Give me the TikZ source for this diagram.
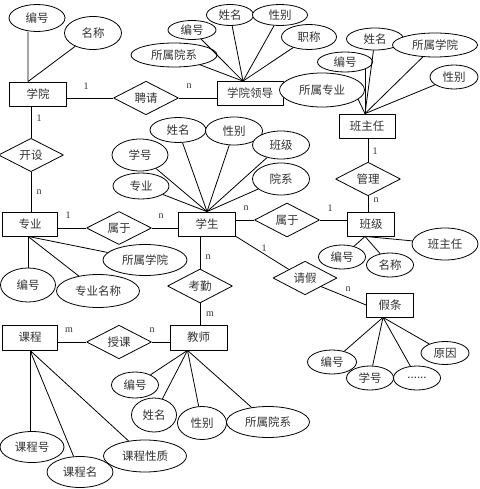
\documentclass[tikz,border=0pt]{standalone}
\usepackage{fontspec}
\setmainfont{Liberation Serif}
\newfontfamily\cjk{Noto Sans CJK SC}
\usetikzlibrary{shapes.geometric}

\begin{document}
\begin{tikzpicture}[x=1pt, y=-1pt, line width=0.8pt, line join=round,
  every node/.style={font=\cjk\fontsize{11.5}{13}\selectfont, text=black!80, inner sep=0pt},
  ent/.style={draw, rectangle, fill=white, minimum width=56pt, minimum height=24pt},
  rel/.style={draw, diamond, fill=white, minimum width=65pt, minimum height=32pt},
  attr/.style 2 args={draw, ellipse, fill=white, minimum width=#1, minimum height=#2},
  card/.style={font=\rmfamily\fontsize{10}{12}\selectfont}]

  % ── 实体 ──
  \node[ent, minimum width=57pt] (xy)   at (38,94)    {学院};
  \node[ent, minimum width=66pt] (xyld) at (250,93.5) {学院领导};
  \node[ent] (bzr) at (367,126) {班主任};
  \node[ent, minimum width=55pt] (zy)   at (30,224)   {专业};
  \node[ent, minimum width=57pt] (xs)   at (207,224)  {学生};
  \node[ent, minimum width=47pt] (bj)   at (371,224)  {班级};
  \node[ent, minimum width=47pt] (jt)   at (390,305)  {假条};
  \node[ent, minimum width=55pt, minimum height=25pt] (kc) at (30,337.5)  {课程};
  \node[ent, minimum width=57pt, minimum height=25pt] (js) at (198.5,337.5) {教师};

  % ── 联系 ──
  \node[rel] (pq)  at (146,98)  {聘请};
  \node[rel] (ks)  at (31,155)  {开设};
  \node[rel] (sy1) at (119,228) {属于};
  \node[rel, minimum height=34pt] (sy2) at (287,220) {属于};
  \node[rel] (gl)  at (368,179) {管理};
  \node[rel, minimum width=64pt] (qj) at (305,278) {请假};
  \node[rel, minimum height=34pt] (kq) at (200,286) {考勤};
  \node[rel] (sk)  at (119,342) {授课};

  \draw (xy.east |- pq) -- (pq.west) (pq.east) -- (xyld.west |- pq);
  \draw (xy.south -| ks) -- (ks.north) (ks.south) -- (zy.north -| ks);
  \draw (zy.east |- sy1) -- (sy1.west) (sy1.east) -- (xs.west |- sy1);
  \draw (xs.east |- sy2) -- (sy2.west) (sy2.east) -- (bj.west |- sy2);
  \draw (bzr.south -| gl) -- (gl.north) (gl.south) -- (bj.north -| gl);
  \draw (xs.south -| kq) -- (kq.north) (kq.south) -- (js.north -| kq);
  \draw (kc.east |- sk) -- (sk.west) (sk.east) -- (js.west |- sk);
  \draw (xs.south east) -- (qj.north west) (qj.south east) -- (jt.west);

  % ── 对应关系 ──
  \node[card] (c1)  at (86,86)   {1};
  \node[card] (c2)  at (189,86)  {n};
  \node[card] (c3)  at (39,118)  {1};
  \node[card] (c4)  at (39,192)  {n};
  \node[card] (c5)  at (68,215)  {1};
  \node[card] (c6)  at (161,216) {n};
  \node[card] (c7)  at (246,208) {n};
  \node[card] (c8)  at (330,208) {1};
  \node[card] (c9)  at (375,151) {1};
  \node[card] (c10) at (376,200) {n};
  \node[card] (c11) at (264,248) {1};
  \node[card] (c12) at (348,289) {n};
  \node[card] (c13) at (208,257) {n};
  \node[card] (c14) at (210,314) {m};
  \node[card] (c15) at (69,330)  {m};
  \node[card] (c16) at (152,330) {n};

  % ── 学院的属性 ──
  \node[attr={56pt}{27pt}] (xy_bh) at (37,18) {编号};
  \node[attr={57pt}{33pt}] (xy_mc) at (93,33) {名称};
  \coordinate (xy_c) at ([xshift=-10pt]xy.north);
  \draw (xy_c) -- (xy_c |- xy_bh.south) (xy_c) -- (xy_mc);

  % ── 学院领导的属性 ──
  \node[attr={47pt}{21pt}] (ld_xm) at (230,15) {姓名};
  \node[attr={55pt}{21pt}] (ld_xb) at (280,15) {性别};
  \node[attr={48pt}{19pt}] (ld_bh) at (192,30) {编号};
  \node[attr={86pt}{24pt}] (ld_yx) at (174,55) {所属院系};
  \node[attr={55pt}{25pt}] (ld_zc) at (309,37) {职称};
  \coordinate (ld_c) at ([xshift=-7pt]xyld.north);
  \foreach \a in {ld_xm,ld_xb,ld_bh,ld_yx,ld_zc}
    \draw (ld_c) -- (\a);

  % ── 班主任的属性 ──
  \node[attr={57pt}{22pt}] (bz_xm) at (375,39) {姓名};
  \node[attr={85pt}{24pt}] (bz_xy) at (435,45) {所属学院};
  \node[attr={55pt}{20pt}] (bz_bh) at (345,62) {编号};
  \node[attr={48pt}{24pt}] (bz_xb) at (454,77) {性别};
  \node[attr={85pt}{34pt}] (bz_zy) at (322,90) {所属专业};
  \coordinate (bz_c) at ([xshift=-2pt]bzr.north);
  \draw (bz_c) -- ([shift={(20,7)}]bz_bh.center);
  \draw (bz_c) -- ([shift={(36,9)}]bz_zy.center);
  \foreach \a in {bz_xm,bz_xy,bz_xb}
    \draw (bz_c) -- (\a);

  % ── 学生的属性 ──
  \node[attr={56pt}{32pt}] (xs_xh) at (140,155) {学号};
  \node[attr={56pt}{25pt}] (xs_xm) at (178,130) {姓名};
  \node[attr={57pt}{28pt}] (xs_xb) at (234,131) {性别};
  \node[attr={56pt}{26pt}] (xs_zy) at (141,186) {专业};
  \node[attr={57pt}{28pt}] (xs_bj) at (281,145) {班级};
  \node[attr={57pt}{32pt}] (xs_yx) at (281,179) {院系};
  \coordinate (xs_c) at (xs.north);
  \foreach \a in {xs_xh,xs_xm,xs_xb,xs_zy,xs_bj,xs_yx}
    \draw (xs_c) -- (\a);

  % ── 专业的属性 ──
  \node[attr={84pt}{31pt}] (zy_xy) at (145,260) {所属学院};
  \node[attr={55pt}{34pt}] (zy_bh) at (28,285)  {编号};
  \node[attr={83pt}{33pt}] (zy_mc) at (98,291)  {专业名称};
  \coordinate (zy_c) at ([xshift=-2pt]zy.south);
  \foreach \a in {zy_xy,zy_bh,zy_mc}
    \draw (zy_c) -- (\a);

  % ── 班级的属性 ──
  \node[attr={47pt}{24pt}] (bj_bh)  at (342,257) {编号};
  \node[attr={47pt}{24pt}] (bj_mc)  at (390,265) {名称};
  \node[attr={66pt}{32pt}] (bj_bzr) at (445,244) {班主任};
  \coordinate (bj_c) at ([xshift=-6pt]bj.south);
  \foreach \a in {bj_bh,bj_mc,bj_bzr}
    \draw (bj_c) -- (\a);

  % ── 假条的属性 ──
  \node[attr={49pt}{24pt}] (jt_bh) at (332,362) {编号};
  \node[attr={47pt}{24pt}] (jt_xh) at (370,378) {学号};
  \node[attr={47pt}{24pt}] (jt_qt) at (417,378) {......};
  \node[attr={48pt}{23pt}] (jt_yy) at (445,353) {原因};
  \coordinate (jt_c) at ([xshift=-7pt]jt.south);
  \foreach \a in {jt_bh,jt_xh,jt_qt,jt_yy}
    \draw (jt_c) -- (\a);

  % ── 教师的属性 ──
  \node[attr={47pt}{26pt}] (js_bh) at (135,385) {编号};
  \node[attr={45pt}{34pt}] (js_xm) at (154,415) {姓名};
  \node[attr={49pt}{33pt}] (js_xb) at (202,423) {性别};
  \node[attr={83pt}{31pt}] (js_yx) at (268,422) {所属院系};
  \coordinate (js_c) at ([xshift=-11pt]js.south);
  \foreach \a in {js_bh,js_xm,js_xb,js_yx}
    \draw (js_c) -- (\a);

  % ── 课程的属性 ──
  \node[attr={64pt}{31pt}] (kc_kch) at (32,447) {课程号};
  \node[attr={66pt}{31pt}] (kc_kcm) at (80,472) {课程名};
  \node[attr={83pt}{32pt}] (kc_xz)  at (145,456) {课程性质};
  \coordinate (kc_c) at (kc.south);
  \draw (kc_c) -- (kc_c |- kc_kch.north);
  \draw (kc_c) -- (kc_kcm) (kc_c) -- (kc_xz);

  \pgfresetboundingbox
  \path[use as bounding box] (0,0) rectangle (479,489);
\end{tikzpicture}
\end{document}
